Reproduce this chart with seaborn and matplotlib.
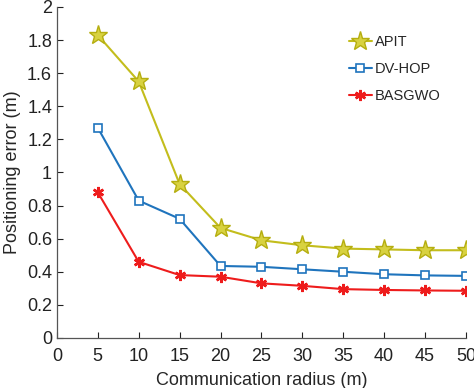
import numpy as np
import pandas as pd
import matplotlib
matplotlib.use("Agg")
import matplotlib.pyplot as plt
import seaborn as sns

# data
radius = [5, 10, 15, 20, 25, 30, 35, 40, 45, 50]
apit = [1.83, 1.55, 0.93, 0.665, 0.59, 0.56, 0.54, 0.535, 0.53, 0.53]
dvhop = [1.27, 0.83, 0.72, 0.435, 0.43, 0.415, 0.40, 0.385, 0.378, 0.375]
basgwo = [0.88, 0.46, 0.38, 0.37, 0.33, 0.315, 0.295, 0.29, 0.287, 0.285]

sns.set_style("ticks")
plt.rcParams['font.family'] = ['Liberation Sans', 'DejaVu Sans']

fig = plt.figure(figsize=(4.74, 3.88), dpi=100)
ax = fig.add_axes([0.120, 0.129, 0.863, 0.853])

sns.lineplot(x=radius, y=apit, ax=ax, color="#c3bd1c", marker="*", markersize=14,
             markerfacecolor="#d8d240", markeredgecolor="#b5ae10", markeredgewidth=1.0,
             linewidth=1.5, label="APIT")
sns.lineplot(x=radius, y=dvhop, ax=ax, color="#1f74bd", marker="s", markersize=6,
             markerfacecolor="white", markeredgecolor="#1f74bd", markeredgewidth=1.2,
             linewidth=1.5, label="DV-HOP")
sns.lineplot(x=radius, y=basgwo, ax=ax, color="#ee1c1c", marker=(6, 2, 0), markersize=8,
             markeredgecolor="#ee1c1c", markeredgewidth=1.8,
             linewidth=1.5, label="BASGWO")

ax.set_xlim(0, 50)
ax.set_ylim(0, 2)
ax.set_xticks(np.arange(0, 51, 5))
ax.set_yticks(np.arange(0, 2.01, 0.2))
ax.set_yticklabels(["0", "0.2", "0.4", "0.6", "0.8", "1", "1.2", "1.4", "1.6", "1.8", "2"])
ax.tick_params(direction="in", labelsize=13, colors="#222222", length=4, width=0.8)
ax.tick_params(axis="x", pad=7)
ax.set_xlabel("Communication radius (m)", fontsize=13, labelpad=5)
ax.set_ylabel("Positioning error (m)", fontsize=13, labelpad=4)
for s in ["left", "bottom"]:
    ax.spines[s].set_color("#555555")
    ax.spines[s].set_linewidth(0.9)
sns.despine(ax=ax)

ax.legend(loc="upper right", bbox_to_anchor=(0.97, 0.955), frameon=False, fontsize=10.5,
          handlelength=1.6, handletextpad=0.2, labelspacing=0.88)

fig.savefig("out.png", dpi=100)
